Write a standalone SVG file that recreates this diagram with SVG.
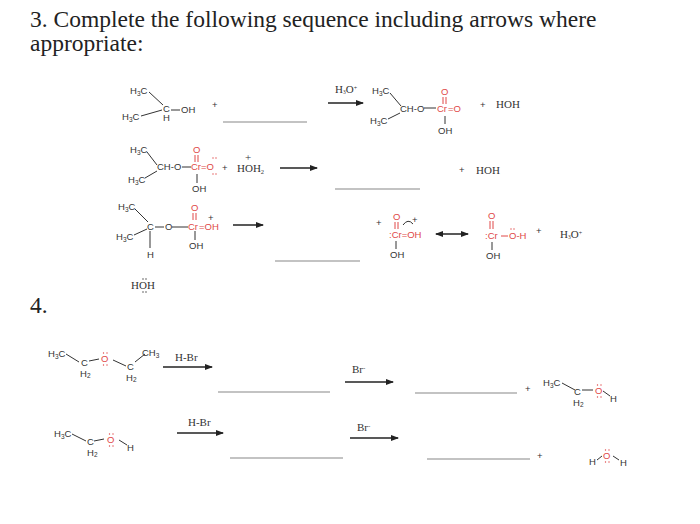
<svg xmlns="http://www.w3.org/2000/svg" width="700" height="524" viewBox="0 0 700 524">
<defs><marker id="ah" markerWidth="8" markerHeight="6" refX="7" refY="3" orient="auto-start-reverse" markerUnits="userSpaceOnUse"><path d="M0,0 L8,3 L0,6 Z" fill="#222"/></marker></defs>
<style>
.t{font-family:"Liberation Serif",serif;font-size:23.5px;fill:#222}
.s{font-family:"Liberation Sans",sans-serif;font-size:9.5px;fill:#333}
.r{font-family:"Liberation Sans",sans-serif;font-size:9.5px;fill:#e04848}
.m{font-family:"Liberation Serif",serif;font-size:11px;fill:#333}
.b{stroke:#333;stroke-width:1;fill:none}
.rb{stroke:#e04848;stroke-width:1;fill:none}
.bl{stroke:#888;stroke-width:1.2}
.ar{stroke:#222;stroke-width:1.5;marker-end:url(#ah)}
.d{fill:#333}.rd{fill:#e04848}
</style>
<rect width="700" height="524" fill="#fff"/>
<text class="t" x="30" y="27">3. Complete the following sequence including arrows where</text>
<text class="t" x="30" y="51">appropriate:</text>
<text class="t" x="30" y="313">4.</text>

<!-- row1 -->
<g id="r1a"><text class="s" x="130" y="94">H<tspan font-size="6.5" dy="2">3</tspan><tspan dy="-2">C</tspan></text>
<text class="s" x="122" y="120">H<tspan font-size="6.5" dy="2">3</tspan><tspan dy="-2">C</tspan></text>
<path class="b" d="M149,92 L163,105 M141,116 L162,110 M171,110 L180,110"/>
<text class="s" x="163" y="112">C</text><text class="s" x="181" y="113">OH</text><text class="s" x="163" y="121">H</text></g>
<text class="s" x="212" y="108">+</text>
<line class="bl" x1="223" y1="122" x2="307" y2="122"/>
<line class="ar" x1="328" y1="103" x2="363" y2="103"/>
<text class="m" x="335" y="93" font-size="8">H<tspan font-size="5.5" dy="1">3</tspan><tspan dy="-1">O</tspan><tspan font-size="6" dy="-3">+</tspan></text>
<g id="r1p"><text class="s" x="372" y="94">H<tspan font-size="6.5" dy="2">3</tspan><tspan dy="-2">C</tspan></text>
<text class="s" x="370" y="124">H<tspan font-size="6.5" dy="2">3</tspan><tspan dy="-2">C</tspan></text>
<path class="b" d="M390,93 L401,106 M388,119 L400,113 M424,108 L436,108 M445,116 L445,124"/>
<text class="s" x="400" y="112">CH-O</text><text class="r" x="437" y="112">Cr</text><text class="r" x="448" y="112">=O</text>
<text class="r" x="441" y="95">O</text><path class="rb" d="M443,97 L443,104 M446,97 L446,104"/>
<text class="s" x="438" y="134">OH</text></g>
<text class="s" x="480" y="108">+</text><text class="m" x="496" y="108">HOH</text>

<!-- row2 -->
<g id="r2a"><text class="s" x="130" y="153">H<tspan font-size="6.5" dy="2">3</tspan><tspan dy="-2">C</tspan></text>
<text class="s" x="128" y="183">H<tspan font-size="6.5" dy="2">3</tspan><tspan dy="-2">C</tspan></text>
<path class="b" d="M147,152 L157,165 M145,178 L157,171 M182,167 L191,167 M197,174 L197,183"/>
<text class="s" x="157" y="170">CH-O</text><text class="r" x="191" y="170">Cr</text><text class="r" x="201" y="170">=O</text>
<circle class="rd" cx="213" cy="158" r="0.7"/><circle class="rd" cx="216" cy="158" r="0.7"/>
<circle class="rd" cx="213" cy="174" r="0.7"/><circle class="rd" cx="216" cy="174" r="0.7"/>
<text class="r" x="193" y="153">O</text><path class="rb" d="M195,155 L195,162 M198,155 L198,162"/>
<text class="s" x="192" y="192">OH</text></g>
<text class="s" x="222" y="171">+</text>
<text class="m" x="237" y="172">HOH<tspan font-size="6.5" dy="2">2</tspan></text><text class="m" x="245" y="161" font-size="8">+</text>
<line class="ar" x1="280" y1="168" x2="317" y2="168"/>
<line class="bl" x1="335" y1="189" x2="420" y2="189"/>
<text class="s" x="459" y="173">+</text><text class="m" x="476" y="174">HOH</text>

<!-- row3 -->
<g id="r3a"><text class="s" x="118" y="210">H<tspan font-size="6.5" dy="2">3</tspan><tspan dy="-2">C</tspan></text>
<text class="s" x="116" y="240">H<tspan font-size="6.5" dy="2">3</tspan><tspan dy="-2">C</tspan></text>
<path class="b" d="M135,209 L148,222 M134,235 L147,229 M155,227 L164,227 M150,231 L150,248 M172,227 L188,227 M195,231 L195,240"/>
<text class="s" x="147" y="230">C</text><text class="s" x="165" y="230">O</text><text class="s" x="147" y="258">H</text>
<text class="r" x="188" y="230">Cr</text><text class="r" x="199" y="230">=OH</text><text class="s" x="208" y="221" font-size="8">+</text>
<text class="r" x="191" y="211">O</text><path class="rb" d="M193,213 L193,220 M196,213 L196,220"/>
<text class="s" x="189" y="249">OH</text></g>
<line class="ar" x1="233" y1="225" x2="263" y2="225"/>
<line class="bl" x1="275" y1="261" x2="360" y2="261"/>
<text class="s" x="376" y="226">+</text>
<g id="r3b"><text class="r" x="393" y="220">O</text><path class="rb" d="M395,222 L395,229 M398,229 L398,222"/>
<text class="r" x="389" y="238">:Cr=OH</text><path class="b" d="M396,241 L396,249 M403,225 Q408,218 413,224"/><text class="s" x="412" y="223" font-size="8">+</text>
<text class="s" x="390" y="258">OH</text></g>
<line class="ar" x1="436" y1="234" x2="468" y2="234" marker-start="url(#ah)"/>
<g id="r3c"><text class="r" x="488" y="219">O</text><path class="rb" d="M490,221 L490,229 M493,229 L493,221"/>
<text class="r" x="485" y="239">:Cr</text><path class="rb" d="M501,236 L508,236"/><text class="r" x="509" y="239">O-H</text>
<circle class="rd" cx="511" cy="229" r="0.7"/><circle class="rd" cx="514" cy="229" r="0.7"/>
<path class="b" d="M492,242 L492,250"/>
<text class="s" x="486" y="259">OH</text></g>
<text class="s" x="536" y="234">+</text>
<text class="m" x="560" y="238" font-size="8.5">H<tspan font-size="5.5" dy="1">3</tspan><tspan dy="-1">O</tspan><tspan font-size="6" dy="-3">+</tspan></text>
<text class="m" x="131" y="289">HOH</text>
<circle class="d" cx="143" cy="279" r="0.7"/><circle class="d" cx="146" cy="279" r="0.7"/>
<circle class="d" cx="143" cy="292" r="0.7"/><circle class="d" cx="146" cy="292" r="0.7"/>

<!-- section 4 -->
<g id="e1"><text class="s" x="48" y="357">H<tspan font-size="6.5" dy="2">3</tspan><tspan dy="-2">C</tspan></text>
<path class="b" d="M66,354 L79,362 M89,361 L99,359 M113,360 L126,366 M135,362 L145,354"/>
<text class="s" x="81" y="366">C</text><text class="s" x="80" y="377">H<tspan font-size="6.5" dy="1">2</tspan></text>
<text class="r" x="101" y="362">O</text>
<circle class="rd" cx="103.5" cy="353" r="0.7"/><circle class="rd" cx="107" cy="353" r="0.7"/>
<circle class="rd" cx="103.5" cy="365" r="0.7"/><circle class="rd" cx="107" cy="365" r="0.7"/>
<text class="s" x="127" y="370">C</text><text class="s" x="126" y="381">H<tspan font-size="6.5" dy="1">2</tspan></text>
<text class="s" x="142" y="356">CH<tspan font-size="6.5" dy="2">3</tspan></text></g>
<text class="m" x="175" y="361">H-Br</text>
<line class="ar" x1="163" y1="367" x2="212" y2="367"/>
<line class="bl" x1="218" y1="392" x2="330" y2="392"/>
<text class="m" x="352" y="373">Br<tspan font-size="7" dy="-3">-</tspan></text>
<line class="ar" x1="345" y1="382" x2="393" y2="382"/>
<line class="bl" x1="415" y1="393" x2="517" y2="393"/>
<text class="s" x="525" y="392">+</text>
<g id="p1"><text class="s" x="543" y="386">H<tspan font-size="6.5" dy="2">3</tspan><tspan dy="-2">C</tspan></text>
<path class="b" d="M562,383 L575,390 M582,390 L593,390 M603,391 L610,396"/>
<text class="s" x="574" y="395">C</text><text class="s" x="573" y="406">H<tspan font-size="6.5" dy="1">2</tspan></text>
<text class="r" x="595" y="394">O</text>
<circle class="rd" cx="597.5" cy="385" r="0.7"/><circle class="rd" cx="601" cy="385" r="0.7"/>
<circle class="rd" cx="597.5" cy="397" r="0.7"/><circle class="rd" cx="601" cy="397" r="0.7"/>
<text class="s" x="610" y="402">H</text></g>

<g id="e2"><text class="s" x="54" y="437">H<tspan font-size="6.5" dy="2">3</tspan><tspan dy="-2">C</tspan></text>
<path class="b" d="M72,434 L86,441 M94,441 L104,439 M119,440 L127,445"/>
<text class="s" x="87" y="445">C</text><text class="s" x="87" y="456">H<tspan font-size="6.5" dy="1">2</tspan></text>
<text class="r" x="107" y="443">O</text>
<circle class="rd" cx="109.5" cy="434" r="0.7"/><circle class="rd" cx="113" cy="434" r="0.7"/>
<circle class="rd" cx="109.5" cy="446" r="0.7"/><circle class="rd" cx="113" cy="446" r="0.7"/>
<text class="s" x="127" y="451">H</text></g>
<text class="m" x="188" y="426">H-Br</text>
<line class="ar" x1="177" y1="433" x2="223" y2="433"/>
<line class="bl" x1="230" y1="458" x2="343" y2="458"/>
<text class="m" x="357" y="431">Br<tspan font-size="7" dy="-3">-</tspan></text>
<line class="ar" x1="350" y1="438" x2="398" y2="438"/>
<line class="bl" x1="427" y1="459" x2="530" y2="459"/>
<text class="s" x="537" y="459">+</text>
<g id="w"><text class="s" x="589" y="465">H</text><path class="b" d="M597,460 L602,456 M613,456 L619,460"/>
<text class="r" x="603" y="459">O</text>
<circle class="rd" cx="605.5" cy="450" r="0.7"/><circle class="rd" cx="609" cy="450" r="0.7"/>
<circle class="rd" cx="605.5" cy="462" r="0.7"/><circle class="rd" cx="609" cy="462" r="0.7"/>
<text class="s" x="620" y="466">H</text></g>
</svg>
